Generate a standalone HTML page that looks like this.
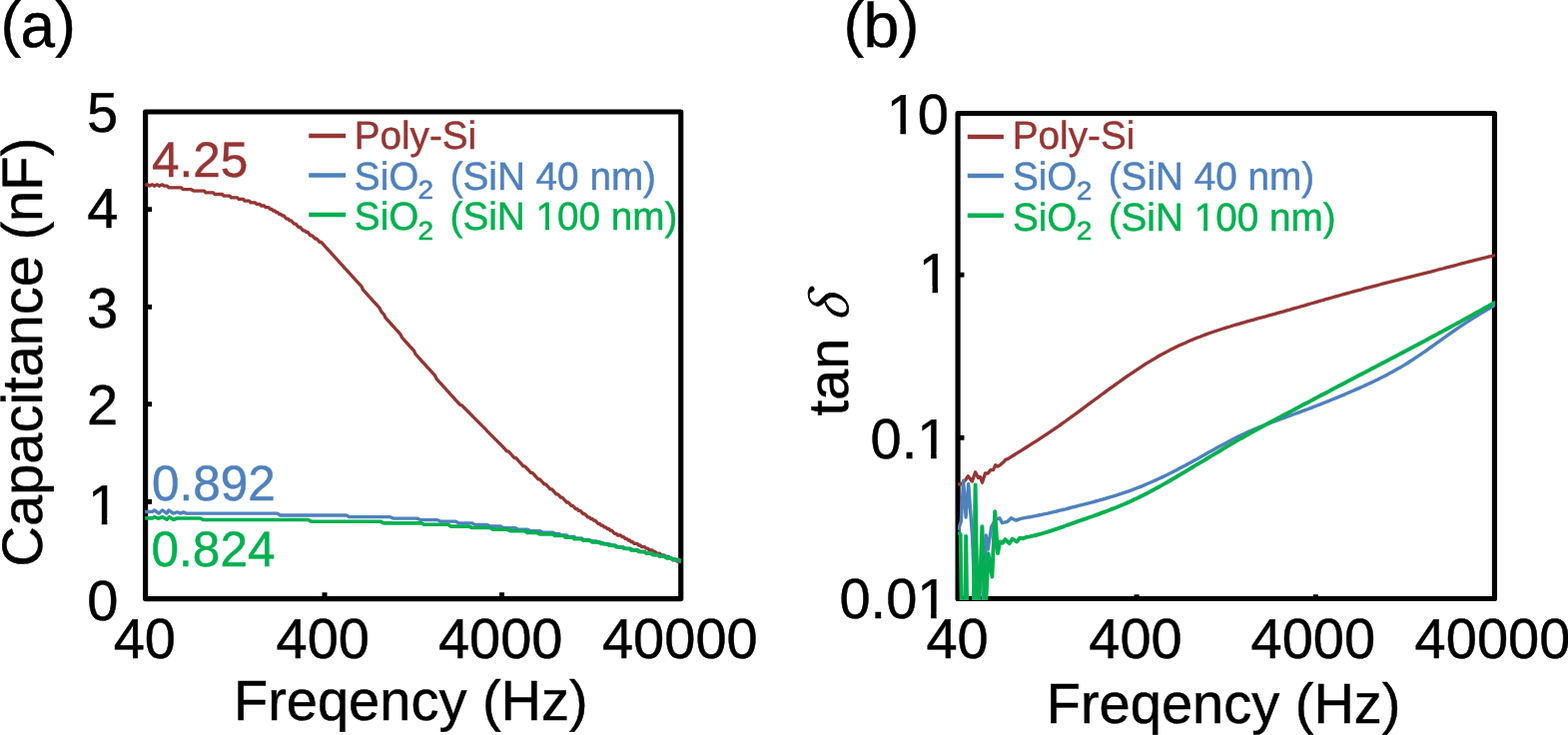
<!DOCTYPE html>
<html lang="en">
<head>
<meta charset="utf-8">
<title>Capacitance and tan delta versus frequency</title>
<style>
html,body{margin:0;padding:0;background:#fff;}
body{width:1570px;height:736px;}
svg{display:block;}
text{font-family:"Liberation Sans",sans-serif;text-rendering:geometricPrecision;stroke-width:.45px;}
.k{fill:#000;stroke:#000;}.r{fill:#943634;stroke:#943634;}.b{fill:#4F81BD;stroke:#4F81BD;}.g{fill:#00B050;stroke:#00B050;}
.sub{stroke-width:.55px;}
.delta{font-family:"Noto Serif CJK SC","Liberation Serif",serif;font-style:italic;stroke-width:.9px;}
</style>
</head>
<body>
<svg width="1570" height="736" viewBox="0 0 1570 736" role="img" aria-label="Capacitance and tan delta versus frequency">
<rect width="1570" height="736" fill="#fff"/>
<defs>
<clipPath id="ca"><rect x="145.1" y="100" width="537.4" height="500.6"/></clipPath>
<clipPath id="cb"><rect x="959.0" y="100" width="538.1" height="500.9"/></clipPath>
<clipPath id="one1"><rect x="-10" y="-42.57" width="247.97" height="38.18"/><rect x="-10" y="-4.89" width="96" height="13.54"/><rect x="95.43" y="-4.89" width="4.02" height="7.39"/><rect x="107.52" y="-4.89" width="130.45" height="13.54"/></clipPath>
<clipPath id="one2"><rect x="-10" y="-61.6" width="51.14" height="55.92"/><rect x="13.78" y="-6.18" width="5.55" height="8.68"/></clipPath>
<clipPath id="one3"><rect x="-10" y="-61.6" width="82.29" height="55.92"/><rect x="13.78" y="-6.18" width="5.55" height="8.68"/><rect x="31.14" y="-6.18" width="41.14" height="19.6"/></clipPath>
<clipPath id="one4"><rect x="-10" y="-61.6" width="97.85" height="55.92"/><rect x="-10" y="-6.18" width="56.7" height="19.6"/><rect x="60.49" y="-6.18" width="5.55" height="8.68"/></clipPath>
<clipPath id="one5"><rect x="-10" y="-61.6" width="128.99" height="55.92"/><rect x="-10" y="-6.18" width="87.85" height="19.6"/><rect x="91.63" y="-6.18" width="5.55" height="8.68"/></clipPath>
</defs>
<g id="panel-a">
<rect x="145.62" y="112.0" width="536.13" height="487.55" fill="none" stroke="#000" stroke-width="5.15" stroke-linejoin="round"/>
<line x1="145.62" y1="209.7" x2="152.05" y2="209.7" stroke="#000" stroke-width="4.9"/>
<line x1="145.62" y1="307.35" x2="152.05" y2="307.35" stroke="#000" stroke-width="4.9"/>
<line x1="145.62" y1="404.7" x2="152.05" y2="404.7" stroke="#000" stroke-width="4.9"/>
<line x1="145.62" y1="502.4" x2="152.05" y2="502.4" stroke="#000" stroke-width="4.9"/>
<line x1="325.0" y1="599.55" x2="325.0" y2="593.25" stroke="#000" stroke-width="5.1"/>
<line x1="502.45" y1="599.55" x2="502.45" y2="593.25" stroke="#000" stroke-width="5.1"/>
<g clip-path="url(#ca)">
<polyline points="145.1,185.0 148.0,185.0 149.9,186.1 152.6,184.8 154.5,186.3 157.5,184.8 159.4,186.3 162.5,184.8 164.4,186.1 167.4,186.1 169.0,187.8 181.2,187.8 183.5,189.7 191.5,189.7 194.2,191.2 195.5,191.2 197.0,191.2 198.5,191.2 200.0,191.2 201.5,191.2 203.0,191.2 204.5,191.2 206.0,192.8 207.5,192.8 209.0,192.8 210.5,192.8 212.0,192.8 213.5,192.8 215.0,194.5 216.5,194.5 218.0,194.5 219.5,194.5 221.0,194.5 222.5,194.5 224.0,196.1 225.5,196.1 227.0,196.1 228.5,196.1 230.0,196.1 231.5,197.8 233.0,197.8 234.5,197.8 236.0,197.8 237.5,197.8 239.0,199.4 240.5,199.4 242.0,199.4 243.5,199.4 245.0,201.1 246.5,201.1 248.0,201.1 249.5,201.1 251.0,202.8 252.5,202.8 254.0,202.8 255.5,202.8 257.0,204.4 258.5,204.4 260.0,204.4 261.5,206.0 263.0,206.0 264.5,206.0 266.0,207.7 267.5,207.7 269.0,207.7 270.5,209.3 272.0,209.3 273.5,211.0 275.0,211.0 276.5,212.6 278.0,212.6 279.5,214.3 281.0,214.3 282.5,215.9 284.0,215.9 285.5,217.6 287.0,219.2 288.5,219.2 290.0,220.9 291.5,220.9 293.0,222.5 294.5,224.2 296.0,224.2 297.5,225.8 299.0,227.5 300.5,227.5 302.0,229.1 303.5,230.8 305.0,230.8 306.5,232.4 308.0,232.4 309.5,234.1 311.0,235.8 312.5,235.8 314.0,237.4 315.5,239.0 317.0,239.0 318.5,240.7 320.0,242.3 321.5,242.3 323.0,244.0 324.5,245.6 326.0,247.3 327.5,248.9 329.0,250.6 330.5,252.2 332.0,253.9 333.5,255.5 335.0,257.2 336.5,258.8 338.0,260.5 339.5,262.1 341.0,263.8 342.5,265.4 344.0,267.1 345.5,268.8 347.0,270.4 348.5,272.0 350.0,273.7 351.5,275.3 353.0,277.0 354.5,278.6 356.0,280.3 357.5,281.9 359.0,283.6 360.5,285.2 362.0,286.9 363.5,290.2 365.0,291.8 366.5,293.5 368.0,295.1 369.5,296.8 371.0,298.4 372.5,300.1 374.0,301.8 375.5,303.4 377.0,305.0 378.5,306.7 380.0,308.3 381.5,311.6 383.0,313.3 384.5,314.9 386.0,318.2 387.5,319.9 389.0,321.5 390.5,323.2 392.0,324.9 393.5,326.5 395.0,328.1 396.5,329.8 398.0,331.4 399.5,333.1 401.0,334.8 402.5,338.0 404.0,339.7 405.5,341.4 407.0,343.0 408.5,344.6 410.0,346.3 411.5,347.9 413.0,349.6 414.5,351.2 416.0,354.5 417.5,356.2 419.0,357.8 420.5,359.5 422.0,361.1 423.5,362.8 425.0,364.4 426.5,366.1 428.0,367.8 429.5,369.4 431.0,371.0 432.5,372.7 434.0,374.3 435.5,376.0 437.0,379.3 438.5,380.9 440.0,382.6 441.5,384.2 443.0,385.9 444.5,387.5 446.0,389.2 447.5,390.8 449.0,392.5 450.5,394.1 452.0,395.8 453.5,397.4 455.0,399.1 456.5,400.8 458.0,402.4 459.5,404.0 461.0,405.7 462.5,405.9 464.0,407.5 465.5,409.0 467.0,410.5 468.5,412.0 470.0,413.5 471.5,415.0 473.0,416.6 474.5,418.1 476.0,419.6 477.5,421.1 479.0,422.6 480.5,424.2 482.0,425.7 483.5,427.2 485.0,428.7 486.5,430.2 488.0,431.8 489.5,433.3 491.0,434.8 492.5,436.3 494.0,437.8 495.5,439.4 497.0,440.9 498.5,442.4 500.0,443.9 501.5,445.4 503.0,446.9 504.5,448.5 506.0,450.2 507.5,451.9 509.0,451.9 510.5,453.5 512.0,455.2 513.5,456.8 515.0,458.5 516.5,458.5 518.0,460.1 519.5,461.8 521.0,463.4 522.5,465.1 524.0,466.8 525.5,466.8 527.0,468.4 528.5,470.0 530.0,471.7 531.5,473.3 533.0,473.3 534.5,475.0 536.0,476.6 537.5,478.3 539.0,479.9 540.5,479.9 542.0,481.6 543.5,483.2 545.0,484.9 546.5,484.9 548.0,486.5 549.5,488.2 551.0,489.8 552.5,489.8 554.0,491.5 555.5,493.1 557.0,494.8 558.5,494.8 560.0,496.4 561.5,498.1 563.0,498.1 564.5,499.8 566.0,501.4 567.5,503.0 569.0,503.0 570.5,504.7 572.0,506.3 573.5,506.3 575.0,508.0 576.5,509.6 578.0,509.6 579.5,511.3 581.0,511.3 582.5,513.0 584.0,514.6 585.5,514.6 587.0,516.2 588.5,517.9 590.0,517.9 591.5,519.5 593.0,519.5 594.5,521.2 596.0,521.2 597.5,522.8 599.0,524.5 600.5,524.5 602.0,526.1 603.5,526.1 605.0,527.8 606.5,527.8 608.0,529.5 609.5,529.5 611.0,531.1 612.5,531.1 614.0,532.8 615.5,534.4 617.0,534.4 618.5,536.0 620.0,536.0 621.5,536.0 623.0,537.7 624.5,537.7 626.0,539.3 627.5,539.3 629.0,541.0 630.5,541.0 632.0,542.6 633.5,542.6 635.0,544.3 636.5,544.3 638.0,544.3 639.5,546.0 641.0,546.0 642.5,547.6 644.0,547.6 645.5,547.6 647.0,549.2 648.5,549.2 650.0,550.9 651.5,550.9 653.0,550.9 654.5,552.5 656.0,552.5 657.5,554.2 659.0,554.2 660.5,554.2 662.0,555.8 663.5,555.8 665.0,555.8 666.5,557.5 668.0,557.5 669.5,557.5 671.0,559.1 672.5,559.1 674.0,560.8 675.5,560.8 677.0,560.8 678.5,562.5 680.0,562.5 681.5,562.5 681.9,562.5" fill="none" stroke="#943634" stroke-width="3.3" stroke-linejoin="round"/>
<polyline points="145.1,512.5 152.6,512.4 154.5,510.9 159.1,514.1 162.5,510.9 167.1,514.1 169.0,510.9 173.6,514.1 177.4,512.8 181.2,514.1 183.5,512.8 186.6,514.1 186.6,514.1 277.6,514.1 280.6,516.0 346.8,516.0 349.8,517.7 390.8,517.7 393.8,519.1 417.6,519.1 420.6,520.6 438.1,520.6 441.1,522.2 456.3,522.2 459.3,523.8 472.5,523.8 475.5,525.4 487.8,525.4 490.8,527.0 501.2,527.0 504.2,528.6 515.5,528.6 518.5,530.1 527.9,530.1 530.9,531.6 540.3,531.6 543.3,533.1 552.8,533.1 557.0,534.5 558.5,534.5 560.0,534.5 561.5,536.0 563.0,536.0 564.5,536.0 566.0,536.0 567.5,536.0 569.0,537.5 570.5,537.5 572.0,537.5 573.5,537.5 575.0,537.5 576.5,539.0 578.0,539.0 579.5,539.0 581.0,539.0 582.5,539.0 584.0,540.5 585.5,540.5 587.0,540.5 588.5,540.5 590.0,540.5 591.5,542.0 593.0,542.0 594.5,542.0 596.0,542.0 597.5,542.0 599.0,543.5 600.5,543.5 602.0,543.5 603.5,543.5 605.0,545.0 606.5,545.0 608.0,545.0 609.5,545.0 611.0,545.0 612.5,546.5 614.0,546.5 615.5,546.5 617.0,546.5 618.5,548.0 620.0,548.0 621.5,548.0 623.0,548.0 624.5,548.0 626.0,549.5 627.5,549.5 629.0,549.5 630.5,549.5 632.0,549.5 633.5,551.0 635.0,551.0 636.5,551.0 638.0,551.0 639.5,551.0 641.0,552.5 642.5,552.5 644.0,552.5 645.5,552.5 647.0,554.0 648.5,554.0 650.0,554.0 651.5,554.0 653.0,555.5 654.5,555.5 656.0,555.5 657.5,555.5 659.0,555.5 660.5,557.0 662.0,557.0 663.5,557.0 665.0,557.0 666.5,558.5 668.0,558.5 669.5,558.5 671.0,558.5 672.5,560.0 674.0,560.0 675.5,560.0 677.0,560.0 678.5,561.5 680.0,561.5 681.5,561.5 681.9,561.5" fill="none" stroke="#4F81BD" stroke-width="3.3" stroke-linejoin="round"/>
<polyline points="145.1,518.9 152.6,518.9 154.5,517.7 158.3,519.2 162.5,517.7 167.1,520.2 169.4,517.7 173.9,520.4 177.0,519.0 200.6,519.0 203.6,520.5 308.6,520.5 311.6,522.3 381.2,522.3 384.2,523.9 421.9,523.9 424.9,525.3 448.6,525.3 451.6,527.1 469.6,527.1 472.6,528.5 490.7,528.5 493.7,530.1 507.9,530.1 510.9,531.7 525.1,531.7 528.1,533.4 537.5,533.4 540.5,534.9 550.9,534.9 554.0,534.9 555.5,536.5 557.0,536.5 558.5,536.5 560.0,536.5 561.5,536.5 563.0,536.5 564.5,536.5 566.0,538.1 567.5,538.1 569.0,538.1 570.5,538.1 572.0,538.1 573.5,538.1 575.0,539.7 576.5,539.7 578.0,539.7 579.5,539.7 581.0,539.7 582.5,539.7 584.0,541.3 585.5,541.3 587.0,541.3 588.5,541.3 590.0,541.3 591.5,541.3 593.0,542.9 594.5,542.9 596.0,542.9 597.5,542.9 599.0,542.9 600.5,542.9 602.0,544.5 603.5,544.5 605.0,544.5 606.5,544.5 608.0,544.5 609.5,546.1 611.0,546.1 612.5,546.1 614.0,546.1 615.5,546.1 617.0,547.7 618.5,547.7 620.0,547.7 621.5,547.7 623.0,547.7 624.5,549.3 626.0,549.3 627.5,549.3 629.0,549.3 630.5,549.3 632.0,550.9 633.5,550.9 635.0,550.9 636.5,550.9 638.0,550.9 639.5,552.5 641.0,552.5 642.5,552.5 644.0,552.5 645.5,552.5 647.0,554.1 648.5,554.1 650.0,554.1 651.5,554.1 653.0,554.1 654.5,555.7 656.0,555.7 657.5,555.7 659.0,555.7 660.5,557.3 662.0,557.3 663.5,557.3 665.0,557.3 666.5,557.3 668.0,558.9 669.5,558.9 671.0,558.9 672.5,558.9 674.0,560.5 675.5,560.5 677.0,560.5 678.5,560.5 680.0,560.5 681.5,562.1 681.9,562.1" fill="none" stroke="#00B050" stroke-width="3.6" stroke-linejoin="round"/>
</g>
<line x1="309.2" y1="136.0" x2="346.1" y2="136.0" stroke="#943634" stroke-width="4.5"/>
<line x1="309.2" y1="175.4" x2="346.1" y2="175.4" stroke="#4F81BD" stroke-width="4.5"/>
<line x1="309.2" y1="215.05" x2="346.1" y2="215.05" stroke="#00B050" stroke-width="4.5"/>
</g>
<g id="panel-b">
<rect x="959.07" y="113.5" width="537.38" height="486.00" fill="none" stroke="#000" stroke-width="5.15" stroke-linejoin="round"/>
<line x1="959.07" y1="275.2" x2="965.45" y2="275.2" stroke="#000" stroke-width="4.9"/>
<line x1="959.07" y1="438.3" x2="965.45" y2="438.3" stroke="#000" stroke-width="4.9"/>
<line x1="1138.1" y1="599.5" x2="1138.1" y2="595.3" stroke="#000" stroke-width="5.1"/>
<line x1="1317.4" y1="599.5" x2="1317.4" y2="595.3" stroke="#000" stroke-width="5.1"/>
<g clip-path="url(#cb)">
<polyline points="959.1,484.2 961.1,485.4 963.8,483.6 966.8,480.5 969.3,476.8 973.3,482.1 976.6,472.7 979.5,478.5 981.5,477.6 983.5,483.3 986.4,474.0 989.2,474.0 991.7,470.7 994.5,470.7 996.6,465.8 999.0,467.0 1001.5,465.6 1003.9,463.6 1006.8,460.4 1009.5,459.3 1012.5,457.4 1015.5,455.5 1018.5,453.7 1021.5,451.8 1024.5,449.9 1027.5,448.0 1030.5,446.1 1033.5,444.2 1036.5,442.3 1039.5,440.4 1042.5,438.4 1045.5,436.4 1048.5,434.5 1051.5,432.4 1054.5,430.4 1057.5,428.3 1060.5,426.3 1063.5,424.1 1066.5,422.0 1069.5,419.9 1072.5,417.7 1075.5,415.5 1078.5,413.3 1081.5,411.1 1084.5,408.9 1087.5,406.7 1090.5,404.4 1093.5,402.2 1096.5,400.0 1099.5,397.8 1102.5,395.5 1105.5,393.3 1108.5,391.1 1111.5,388.9 1114.5,386.8 1117.5,384.6 1120.5,382.5 1123.5,380.3 1126.5,378.2 1129.5,376.1 1132.5,374.1 1135.5,372.1 1138.5,370.1 1141.5,368.1 1144.5,366.2 1147.5,364.2 1150.5,362.4 1153.5,360.6 1156.5,358.8 1159.5,357.0 1162.5,355.3 1165.5,353.7 1168.5,352.1 1171.5,350.5 1174.5,349.0 1177.5,347.5 1180.5,346.1 1183.5,344.7 1186.5,343.4 1189.5,342.1 1192.5,340.8 1195.5,339.5 1198.5,338.3 1201.5,337.2 1204.5,336.0 1207.5,334.9 1210.5,333.8 1213.5,332.8 1216.5,331.8 1219.5,330.8 1222.5,329.8 1225.5,328.8 1228.5,327.9 1231.5,327.0 1234.5,326.0 1237.5,325.2 1240.5,324.3 1243.5,323.4 1246.5,322.6 1249.5,321.7 1252.5,320.9 1255.5,320.1 1258.5,319.2 1261.5,318.4 1264.5,317.6 1267.5,316.8 1270.5,315.9 1273.5,315.1 1276.5,314.3 1279.5,313.4 1282.5,312.6 1285.5,311.8 1288.5,310.9 1291.5,310.1 1294.5,309.2 1297.5,308.3 1300.5,307.5 1303.5,306.6 1306.5,305.8 1309.5,304.9 1312.5,304.0 1315.5,303.2 1318.5,302.3 1321.5,301.4 1324.5,300.6 1327.5,299.7 1330.5,298.9 1333.5,298.0 1336.5,297.2 1339.5,296.3 1342.5,295.5 1345.5,294.7 1348.5,293.8 1351.5,293.0 1354.5,292.2 1357.5,291.4 1360.5,290.6 1363.5,289.8 1366.5,288.9 1369.5,288.1 1372.5,287.4 1375.5,286.6 1378.5,285.8 1381.5,285.0 1384.5,284.2 1387.5,283.4 1390.5,282.7 1393.5,281.9 1396.5,281.1 1399.5,280.4 1402.5,279.6 1405.5,278.9 1408.5,278.1 1411.5,277.4 1414.5,276.6 1417.5,275.9 1420.5,275.1 1423.5,274.4 1426.5,273.6 1429.5,272.8 1432.5,272.1 1435.5,271.3 1438.5,270.5 1441.5,269.7 1444.5,269.0 1447.5,268.2 1450.5,267.4 1453.5,266.6 1456.5,265.8 1459.5,265.0 1462.5,264.2 1465.5,263.4 1468.5,262.7 1471.5,261.9 1474.5,261.1 1477.5,260.3 1480.5,259.6 1483.5,258.8 1486.5,258.1 1489.5,257.4 1492.5,256.7 1495.5,256.0 1497.5,255.5" fill="none" stroke="#943634" stroke-width="3.3" stroke-linejoin="round"/>
<polyline points="959.3,530.9 962.3,522.3 964.6,481.3 967.1,518.0 969.7,484.4 973.5,537.0 977.5,640.0 982.9,640.0 987.2,536.0 989.2,550.1 992.6,527.7 996.5,520.5 1000.9,518.7 1003.3,523.6 1008.8,522.3 1012.5,518.7 1017.4,521.1 1022.0,519.4 1028.4,518.1 1031.0,517.8 1034.0,517.2 1037.0,516.6 1040.0,516.0 1043.0,515.4 1046.0,514.7 1049.0,514.1 1052.0,513.4 1055.0,512.7 1058.0,512.0 1061.0,511.2 1064.0,510.5 1067.0,509.8 1070.0,509.0 1073.0,508.2 1076.0,507.5 1079.0,506.7 1082.0,505.9 1085.0,505.2 1088.0,504.4 1091.0,503.6 1094.0,502.8 1097.0,502.0 1100.0,501.2 1103.0,500.3 1106.0,499.5 1109.0,498.6 1112.0,497.7 1115.0,496.8 1118.0,495.9 1121.0,494.9 1124.0,493.9 1127.0,492.9 1130.0,491.9 1133.0,490.8 1136.0,489.7 1139.0,488.5 1142.0,487.3 1145.0,486.1 1148.0,484.8 1151.0,483.5 1154.0,482.2 1157.0,480.9 1160.0,479.5 1163.0,478.1 1166.0,476.7 1169.0,475.2 1172.0,473.7 1175.0,472.2 1178.0,470.7 1181.0,469.1 1184.0,467.5 1187.0,465.9 1190.0,464.3 1193.0,462.7 1196.0,461.0 1199.0,459.4 1202.0,457.7 1205.0,456.0 1208.0,454.3 1211.0,452.6 1214.0,451.0 1217.0,449.3 1220.0,447.6 1223.0,446.0 1226.0,444.4 1229.0,442.8 1232.0,441.2 1235.0,439.6 1238.0,438.1 1241.0,436.6 1244.0,435.2 1247.0,433.8 1250.0,432.4 1253.0,431.1 1256.0,429.8 1259.0,428.6 1262.0,427.3 1265.0,426.2 1268.0,425.0 1271.0,423.8 1274.0,422.7 1277.0,421.6 1280.0,420.5 1283.0,419.4 1286.0,418.3 1289.0,417.2 1292.0,416.1 1295.0,415.0 1298.0,413.9 1301.0,412.8 1304.0,411.7 1307.0,410.6 1310.0,409.5 1313.0,408.3 1316.0,407.2 1319.0,406.0 1322.0,404.8 1325.0,403.7 1328.0,402.5 1331.0,401.3 1334.0,400.0 1337.0,398.8 1340.0,397.6 1343.0,396.3 1346.0,395.1 1349.0,393.8 1352.0,392.5 1355.0,391.2 1358.0,389.9 1361.0,388.6 1364.0,387.3 1367.0,385.9 1370.0,384.5 1373.0,383.1 1376.0,381.7 1379.0,380.3 1382.0,378.8 1385.0,377.3 1388.0,375.7 1391.0,374.1 1394.0,372.5 1397.0,370.8 1400.0,369.1 1403.0,367.4 1406.0,365.6 1409.0,363.7 1412.0,361.8 1415.0,359.9 1418.0,357.9 1421.0,355.9 1424.0,353.8 1427.0,351.8 1430.0,349.6 1433.0,347.5 1436.0,345.4 1439.0,343.2 1442.0,341.1 1445.0,338.9 1448.0,336.8 1451.0,334.7 1454.0,332.6 1457.0,330.5 1460.0,328.4 1463.0,326.4 1466.0,324.4 1469.0,322.4 1472.0,320.5 1475.0,318.6 1478.0,316.8 1481.0,314.9 1484.0,313.1 1487.0,311.3 1490.0,309.5 1493.0,307.7 1496.0,305.9 1497.5,305.0" fill="none" stroke="#4F81BD" stroke-width="3.4" stroke-linejoin="round"/>
<polyline points="959.3,532.7 961.7,535.2 962.7,610.0 966.5,610.0 967.2,537.0 968.2,610.0 974.8,610.0 976.6,485.4 978.7,610.0 980.2,610.0 983.4,527.2 986.2,610.0 986.9,610.0 989.5,554.1 993.4,577.5 996.2,512.3 999.0,554.1 1001.2,542.5 1003.9,543.7 1006.4,540.1 1010.6,544.1 1013.7,539.5 1018.0,542.5 1021.0,538.8 1024.5,539.2 1028.4,537.6 1031.0,537.4 1034.0,536.7 1037.0,536.0 1040.0,535.2 1043.0,534.4 1046.0,533.5 1049.0,532.6 1052.0,531.7 1055.0,530.7 1058.0,529.7 1061.0,528.6 1064.0,527.6 1067.0,526.5 1070.0,525.4 1073.0,524.4 1076.0,523.3 1079.0,522.2 1082.0,521.2 1085.0,520.1 1088.0,519.1 1091.0,518.0 1094.0,517.0 1097.0,515.9 1100.0,514.8 1103.0,513.7 1106.0,512.6 1109.0,511.5 1112.0,510.3 1115.0,509.2 1118.0,508.0 1121.0,506.7 1124.0,505.5 1127.0,504.2 1130.0,502.9 1133.0,501.5 1136.0,500.1 1139.0,498.7 1142.0,497.2 1145.0,495.7 1148.0,494.2 1151.0,492.6 1154.0,491.0 1157.0,489.4 1160.0,487.7 1163.0,486.1 1166.0,484.4 1169.0,482.7 1172.0,481.0 1175.0,479.2 1178.0,477.5 1181.0,475.7 1184.0,473.9 1187.0,472.1 1190.0,470.3 1193.0,468.5 1196.0,466.7 1199.0,464.9 1202.0,463.1 1205.0,461.3 1208.0,459.5 1211.0,457.7 1214.0,455.9 1217.0,454.1 1220.0,452.3 1223.0,450.5 1226.0,448.7 1229.0,446.9 1232.0,445.1 1235.0,443.4 1238.0,441.6 1241.0,439.9 1244.0,438.2 1247.0,436.5 1250.0,434.8 1253.0,433.1 1256.0,431.5 1259.0,429.8 1262.0,428.2 1265.0,426.6 1268.0,424.9 1271.0,423.3 1274.0,421.7 1277.0,420.1 1280.0,418.5 1283.0,416.9 1286.0,415.3 1289.0,413.7 1292.0,412.2 1295.0,410.6 1298.0,409.0 1301.0,407.4 1304.0,405.8 1307.0,404.2 1310.0,402.7 1313.0,401.1 1316.0,399.5 1319.0,397.9 1322.0,396.3 1325.0,394.7 1328.0,393.2 1331.0,391.6 1334.0,390.0 1337.0,388.4 1340.0,386.8 1343.0,385.3 1346.0,383.7 1349.0,382.1 1352.0,380.5 1355.0,379.0 1358.0,377.4 1361.0,375.8 1364.0,374.2 1367.0,372.7 1370.0,371.1 1373.0,369.5 1376.0,368.0 1379.0,366.4 1382.0,364.8 1385.0,363.2 1388.0,361.7 1391.0,360.1 1394.0,358.5 1397.0,357.0 1400.0,355.4 1403.0,353.8 1406.0,352.2 1409.0,350.6 1412.0,349.0 1415.0,347.5 1418.0,345.9 1421.0,344.3 1424.0,342.7 1427.0,341.1 1430.0,339.5 1433.0,337.8 1436.0,336.2 1439.0,334.6 1442.0,333.0 1445.0,331.4 1448.0,329.8 1451.0,328.1 1454.0,326.5 1457.0,324.9 1460.0,323.2 1463.0,321.6 1466.0,319.9 1469.0,318.3 1472.0,316.6 1475.0,315.0 1478.0,313.3 1481.0,311.6 1484.0,310.0 1487.0,308.3 1490.0,306.7 1493.0,305.0 1496.0,303.4 1497.5,302.6" fill="none" stroke="#00B050" stroke-width="3.9" stroke-linejoin="round"/>
</g>
<line x1="968.8" y1="137.0" x2="1004.9" y2="137.0" stroke="#943634" stroke-width="4.5"/>
<line x1="968.8" y1="176.1" x2="1004.9" y2="176.1" stroke="#4F81BD" stroke-width="4.5"/>
<line x1="968.8" y1="215.8" x2="1004.9" y2="215.8" stroke="#00B050" stroke-width="4.5"/>
</g>
<g id="labels">
<g><text class="k" transform="translate(0.44,45.3)" font-size="62">(</text><text class="k" transform="translate(20.46,46.5) scale(1,1.02)" font-size="62">a</text><text class="k" transform="translate(55.23,45.3)" font-size="62">)</text></g>
<g><text class="k" transform="translate(844.51,45.3)" font-size="62">(</text><text class="k" transform="translate(864.54,46.5) scale(1.04,1.015)" font-size="62">b</text><text class="k" transform="translate(899.68,45.3)" font-size="62">)</text></g>
<g><text class="k" transform="translate(848.9,416.45) rotate(-90) scale(1,1.01)" font-size="56">tan </text><text class="k delta" transform="translate(848.98,321.81) rotate(-90) scale(0.83,0.885) skewX(-6)" font-size="56">δ</text></g>
<g><text class="b" transform="translate(354.83,189.9) scale(1,1.02)" font-size="38.7">SiO</text><text class="b sub" transform="translate(418.57,199.22) scale(1.07,1)" font-size="26.2">2 </text><text class="b" transform="translate(450.63,189.9) scale(1,1.02)" font-size="38.7">(SiN 40 nm)</text></g>
<g><text class="g" transform="translate(354.83,230.4) scale(1,1.02)" font-size="38.7">SiO</text><text class="g sub" transform="translate(418.57,239.75) scale(1.07,1)" font-size="26.2">2 </text><text class="g" transform="translate(450.57,230.4) scale(1,1.02)" font-size="38.7" clip-path="url(#one1)">(SiN 100 nm)</text></g>
<g><text class="b" transform="translate(1013.93,190.3) scale(1,1.02)" font-size="38.7">SiO</text><text class="b sub" transform="translate(1077.67,199.62) scale(1.07,1)" font-size="26.2">2 </text><text class="b" transform="translate(1109.73,190.3) scale(1,1.02)" font-size="38.7">(SiN 40 nm)</text></g>
<g><text class="g" transform="translate(1013.93,230.8) scale(1,1.02)" font-size="38.7">SiO</text><text class="g sub" transform="translate(1077.67,240.15) scale(1.07,1)" font-size="26.2">2 </text><text class="g" transform="translate(1109.67,230.8) scale(1,1.02)" font-size="38.7" clip-path="url(#one1)">(SiN 100 nm)</text></g>
<text class="k" transform="translate(86.94,131.96) scale(1,1.008)" font-size="56">5</text>
<text class="k" transform="translate(87.34,228.43) scale(1,1.008)" font-size="56">4</text>
<text class="k" transform="translate(86.88,327.8) scale(1,1.008)" font-size="56">3</text>
<text class="k" transform="translate(86.95,424.77) scale(1,1.008)" font-size="56">2</text>
<text class="k" transform="translate(87.99,524.74) scale(1,1.008)" font-size="56" clip-path="url(#one2)">1</text>
<text class="k" transform="translate(87.19,621.1) scale(1,1.008)" font-size="56">0</text>
<text class="k" transform="translate(113.73,659.45) scale(1,1.008)" font-size="56">40</text>
<text class="k" transform="translate(276.56,659.45) scale(1,1.008)" font-size="56">400</text>
<text class="k" transform="translate(438.89,659.45) scale(1,1.008)" font-size="56">4000</text>
<text class="k" transform="translate(602.97,659.45) scale(1,1.008)" font-size="56">40000</text>
<text class="k" transform="translate(927.38,659.45) scale(1,1.008)" font-size="56">40</text>
<text class="k" transform="translate(1090.33,659.45) scale(1,1.008)" font-size="56">400</text>
<text class="k" transform="translate(1252.57,659.45) scale(1,1.008)" font-size="56">4000</text>
<text class="k" transform="translate(1416.6,659.45) scale(1,1.008)" font-size="56">40000</text>
<text class="k" transform="translate(887.66,133.65) scale(1,1.008)" font-size="56" clip-path="url(#one3)">10</text>
<text class="k" transform="translate(919.79,292.54) scale(1,1.008)" font-size="56" clip-path="url(#one2)">1</text>
<text class="k" transform="translate(871.61,458.7) scale(1,1.008)" font-size="56" clip-path="url(#one4)">0.1</text>
<text class="k" transform="translate(840.45,618.9) scale(1,1.008)" font-size="56" clip-path="url(#one5)">0.01</text>
<text class="k" transform="translate(233.96,720.8) scale(1,1.01)" font-size="56">Freqency (Hz)</text>
<text class="k" transform="translate(1047.76,724.1) scale(1,1.01)" font-size="56">Freqency (Hz)</text>
<text class="k" transform="translate(41.6,567.4) rotate(-90) scale(1,1.02)" font-size="56">Capacitance (nF)</text>
<text class="r" transform="translate(354.67,149) scale(1,1.02)" font-size="38.7">Poly-Si</text>
<text class="r" transform="translate(1013.77,149.4) scale(1,1.02)" font-size="38.7">Poly-Si</text>
<text class="r" transform="translate(152.01,177.18) scale(1,1.007)" font-size="49.5">4.25</text>
<text class="b" transform="translate(151.94,501.28) scale(1,1.007)" font-size="49.5">0.892</text>
<text class="g" transform="translate(151.58,566.98) scale(1,1.007)" font-size="49.5">0.824</text>
</g>
</svg>
</body>
</html>
